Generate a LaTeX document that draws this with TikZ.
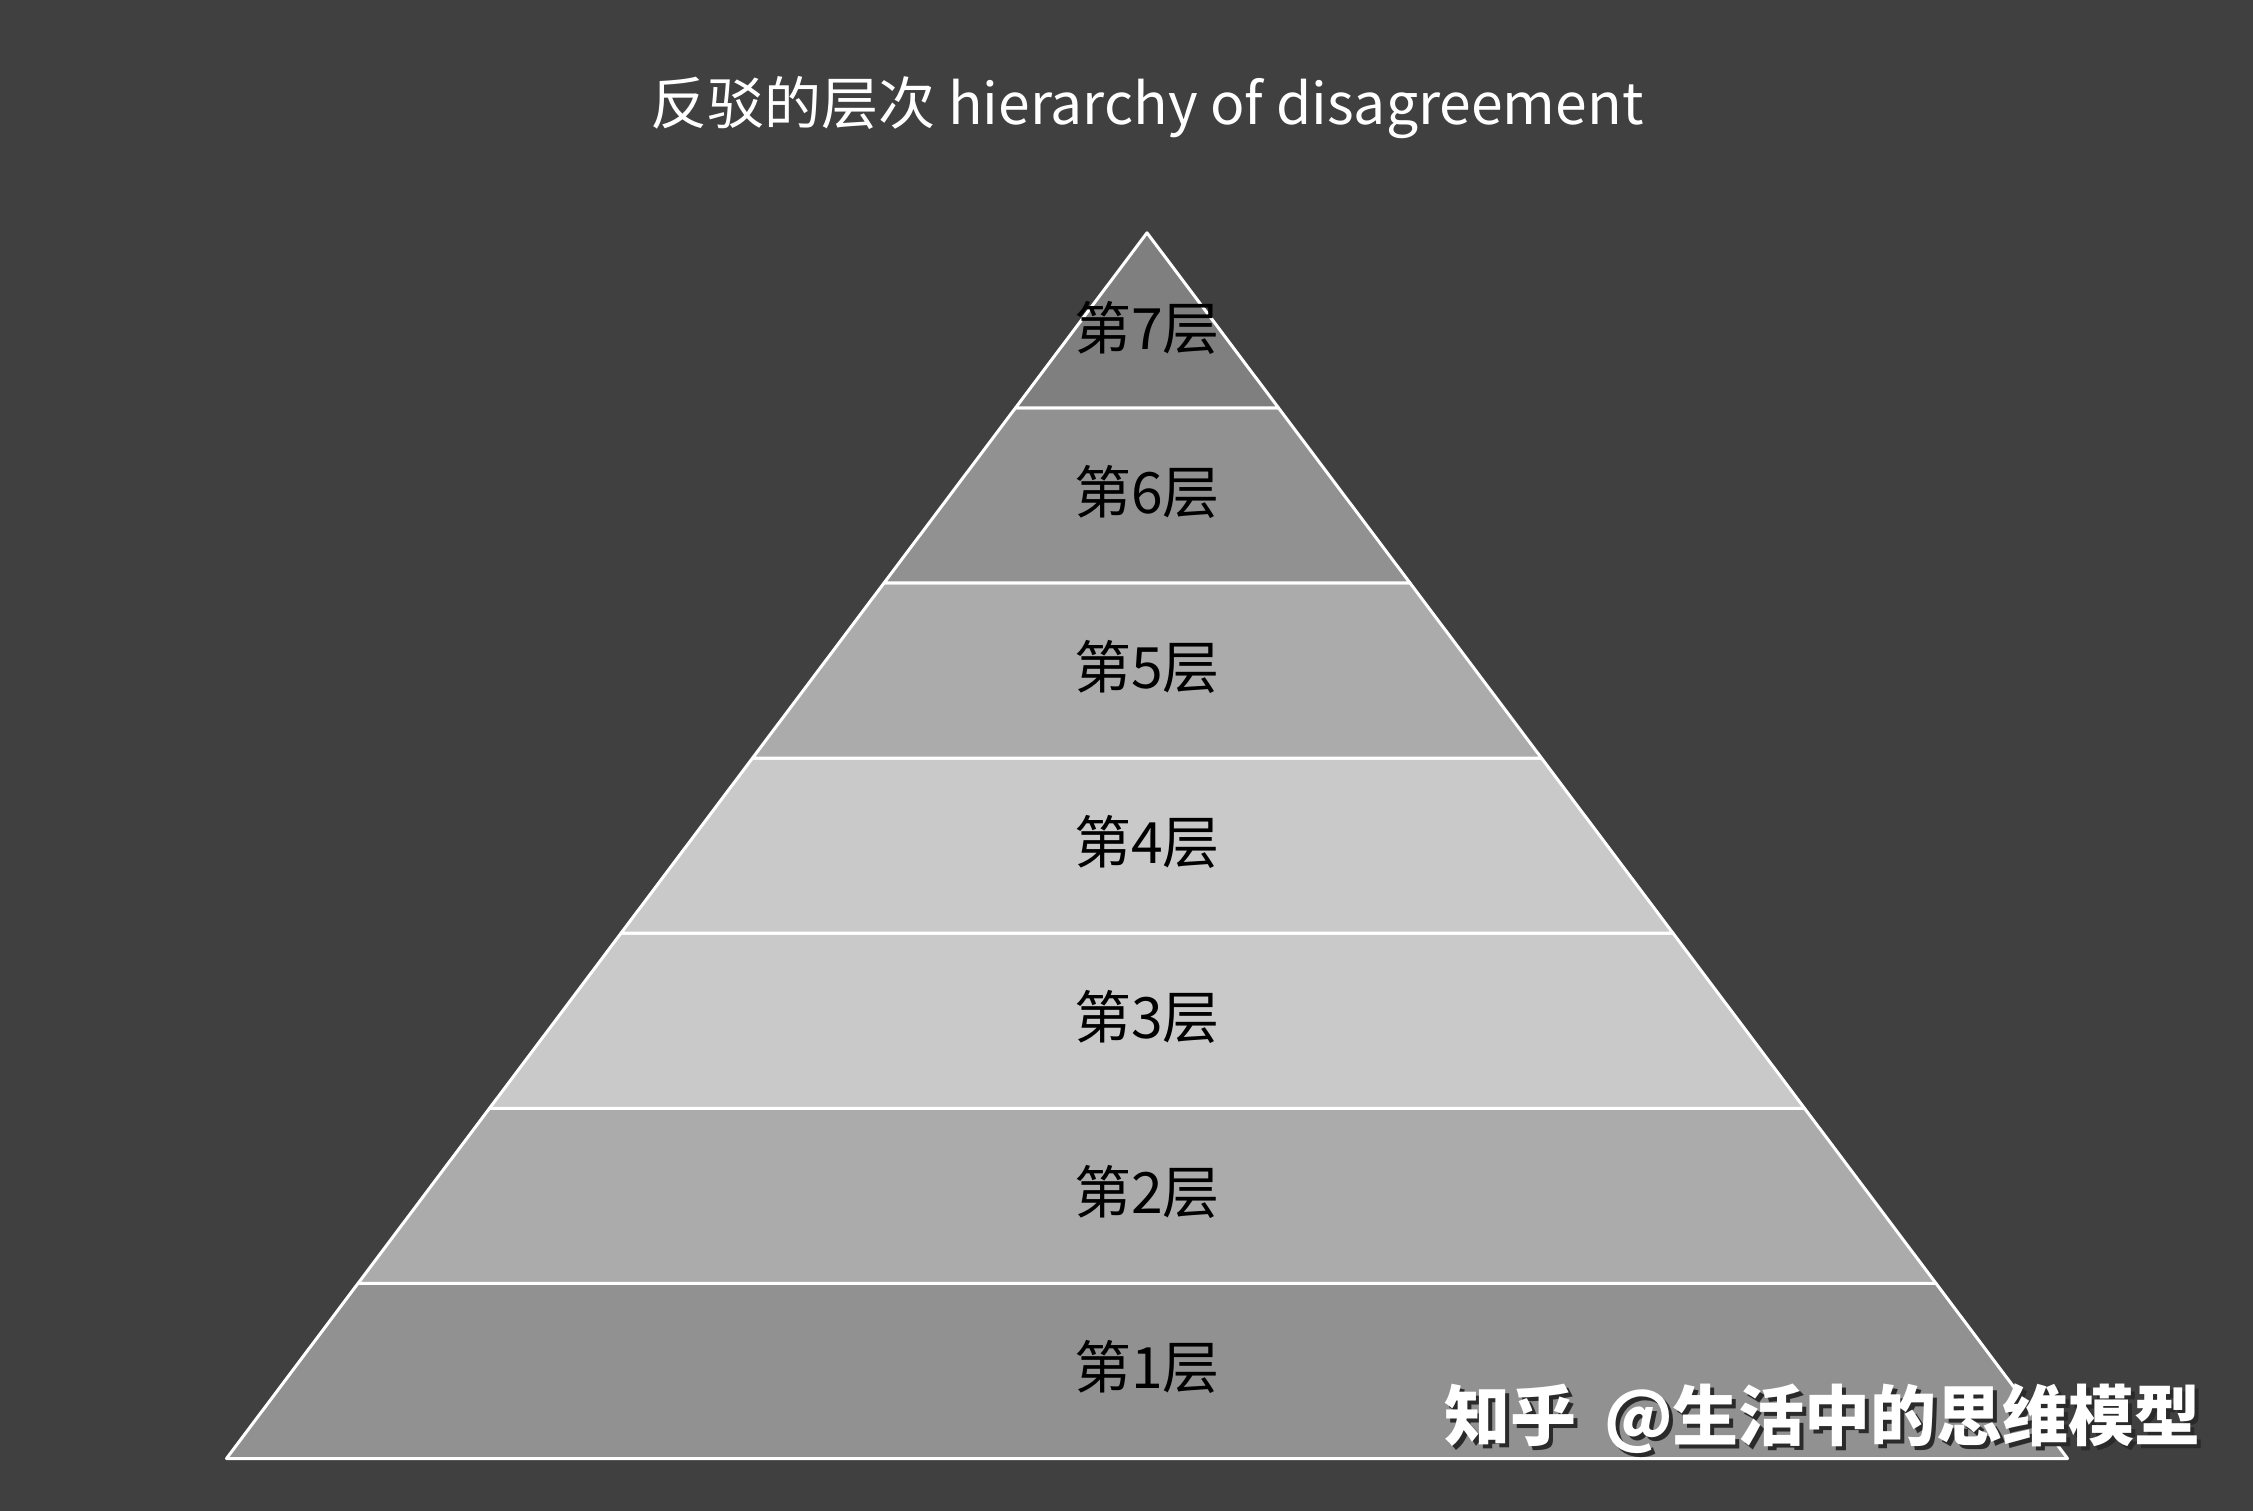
\documentclass[tikz,border=0pt]{standalone}
\usepackage{fontspec}
\setmainfont{Noto Sans CJK SC}
\usetikzlibrary{calc}
\definecolor{bg}{HTML}{404040}
\definecolor{lay7}{HTML}{7F7F7F}
\definecolor{lay6}{HTML}{919191}
\definecolor{lay5}{HTML}{ABABAB}
\definecolor{lay4}{HTML}{C9C9C9}
\definecolor{lay3}{HTML}{C9C9C9}
\definecolor{lay2}{HTML}{ABABAB}
\definecolor{lay1}{HTML}{919191}
\definecolor{shadowc}{HTML}{2A2A2A}
\tikzset{
  layerline/.style={draw=white, line width=3pt, line join=round},
  lbl/.style={anchor=base, inner sep=0pt, text=black, font=\fontsize{57}{64}\selectfont},
  titletext/.style={anchor=base, inner sep=0pt, text=white, font=\fontsize{57}{64}\selectfont},
  wmtext/.style={anchor=base west, inner sep=0pt, font=\bfseries\fontsize{66}{72}\selectfont},
}
\begin{document}
\begin{tikzpicture}[x=1pt,y=-1pt]
\fill[bg] (0,0) rectangle (2253,1511);
\useasboundingbox (0,0) rectangle (2253,1511);
\coordinate (A) at (1147,232.8);
\coordinate (BL) at (226.5,1458.5);
\coordinate (BR) at (2067.5,1458.5);
\foreach \k in {0,...,7} {
  \coordinate (L\k) at ($(A)!\k/7!(BL)$);
  \coordinate (R\k) at ($(A)!\k/7!(BR)$);
}
\foreach \n in {1,...,7} {
  \pgfmathtruncatemacro\a{7-\n}
  \pgfmathtruncatemacro\b{8-\n}
  \filldraw[fill=lay\n, layerline] (L\a) -- (L\b) -- (R\b) -- (R\a) -- cycle;
}
\node[titletext] (title) at (1147,125) {反驳的层次 hierarchy of disagreement};
\node[lbl] (t7) at (1147,349) {第7层};
\node[lbl] (t6) at (1147,513) {第6层};
\node[lbl] (t5) at (1147,688) {第5层};
\node[lbl] (t4) at (1147,863) {第4层};
\node[lbl] (t3) at (1147,1038) {第3层};
\node[lbl] (t2) at (1147,1213) {第2层};
\node[lbl] (t1) at (1147,1388.5) {第1层};
\node[wmtext, text=shadowc] (wmshadow) at (1448,1444) {知乎\hspace{28pt}@生活中的思维模型};
\node[wmtext, text=white] (wm) at (1444,1440) {知乎\hspace{28pt}@生活中的思维模型};
\end{tikzpicture}
\end{document}
